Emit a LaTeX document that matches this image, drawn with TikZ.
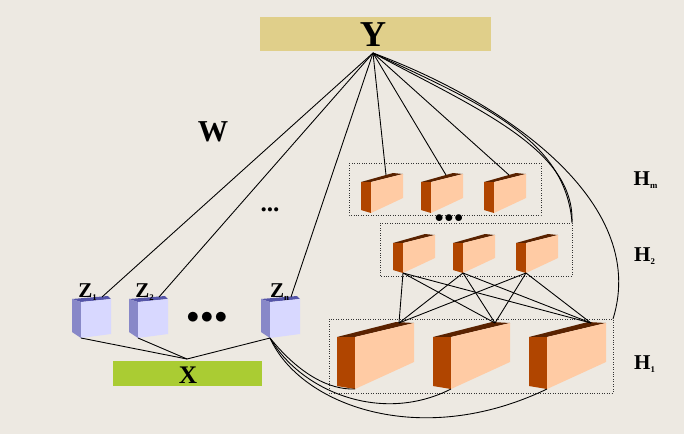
\documentclass[tikz,border=0pt]{standalone}
\usepackage{fontspec}
\setmainfont{Liberation Serif}
\begin{document}
\begin{tikzpicture}[x=0.02cm,y=-0.02cm,line join=round,
  lbl/.style={font=\bfseries\Large,inner sep=0},
  dotted box/.style={densely dotted,draw=black!80},
  ln/.style={black,line width=0.5pt}]
\definecolor{bg}{HTML}{EDE9E2}
\definecolor{ybox}{HTML}{E0CF8A}
\definecolor{xbox}{HTML}{AACC33}
\definecolor{face}{HTML}{FFCBA4}
\definecolor{side}{HTML}{B04500}
\definecolor{topc}{HTML}{5A2200}
\definecolor{cface}{HTML}{D8D8FF}
\definecolor{cside}{HTML}{8888C8}
\definecolor{ctop}{HTML}{5555A8}
\fill[bg] (0,0) rectangle (684,434);
\useasboundingbox (0,0) rectangle (684,434);
% brick: #1 name, #2 L, #3 d, #4 w, #5 T, #6 B, #7 s1, #8 s2
\newcommand{\brick}[8]{%
 \fill[topc] (#2,#5) -- (#2+#4,#5-#7-1) -- (#2+#3+#4,#5-#7) -- (#2+#3,#5) -- cycle;
 \fill[side] (#2,#5) -- (#2+#3,#5) -- (#2+#3,#6) -- (#2,#6-3) -- cycle;
 \fill[face] (#2+#3,#5) -- (#2+#3+#4,#5-#7) -- (#2+#3+#4,#6-#8) -- (#2+#3,#6) -- cycle;
 \coordinate (#1t) at (#2+#3+#4-17,#5-#7+1);
 \coordinate (#1b) at (#2+#3,#6);
}
\newcommand{\cube}[2]{%
 \fill[ctop] (#2,299) -- (#2+36,296) -- (#2+39,299) -- (#2+9,302) -- cycle;
 \fill[cside] (#2,299) -- (#2+9,302) -- (#2+9,338) -- (#2,332) -- cycle;
 \fill[cface] (#2+9,302) -- (#2+39,299) -- (#2+39,334) -- (#2+9,338) -- cycle;
 \coordinate (#1t) at (#2+30,297);
 \coordinate (#1b) at (#2+9,338);
}
% boxes
\node[fill=ybox,minimum width=231*0.02cm,minimum height=34*0.02cm,inner sep=0] (Y) at (375.5,34) {};
\node[font=\bfseries\huge] at (373,35) {Y};
\coordinate (ya) at (373,53);
\node[fill=xbox,minimum width=149*0.02cm,minimum height=25*0.02cm,inner sep=0] (X) at (187.5,373.5) {};
\node[lbl] at (188,375) {X};
\coordinate (xa) at (187,359);
% dotted groups
\draw[dotted box] (349,163) rectangle (541,215);
\draw[dotted box] (380,223) rectangle (572,276);
\draw[dotted box] (329,319) rectangle (613,393);
\coordinate (h2c) at (572,223);
\coordinate (h1c) at (613,319);
% bricks
\brick{m1}{361}{10}{32}{182}{213}{8}{15}
\brick{m2}{421}{10}{32}{182}{213}{8}{15}
\brick{m3}{484}{10}{32}{182}{213}{8}{15}
\brick{s1}{393}{10}{32}{243}{273}{8}{15}
\brick{s2}{453}{10}{32}{243}{273}{8}{15}
\brick{s3}{516}{10}{32}{243}{273}{8}{15}
\brick{b1}{337}{18}{59}{337}{389}{14}{27}
\brick{b2}{433}{18}{59}{337}{389}{14}{27}
\brick{b3}{529}{18}{59}{337}{389}{14}{27}
\coordinate (b1t) at (399,323); \coordinate (b2t) at (495,323); \coordinate (b3t) at (591,323);
% cubes
\cube{z1}{72}
\cube{z2}{129}
\cube{zn}{261}
\node[font=\bfseries\large,inner sep=0] at (88,292) {Z\textsubscript{\tiny 1}};
\node[font=\bfseries\large,inner sep=0] at (145,292) {Z\textsubscript{\tiny 2}};
\node[font=\bfseries\large,inner sep=0] at (280,292) {Z\textsubscript{\tiny n}};
% labels
\node[font=\bfseries\LARGE,inner sep=0] at (213,132) {W};
\node[font=\bfseries\Large,inner sep=0] at (270,210) {...};
\node[inner sep=0,font=\Large] at (207,318) {$\bullet\!\bullet\!\bullet$};
\node[inner sep=0,font=\normalsize] at (449,219) {$\bullet\!\bullet\!\bullet$};
\node[font=\bfseries\large,inner sep=0] at (646,180) {H\textsubscript{\tiny m}};
\node[font=\bfseries\large,inner sep=0] at (645,256) {H\textsubscript{\tiny 2}};
\node[font=\bfseries\large,inner sep=0] at (645,364) {H\textsubscript{\tiny 1}};
% connectors
\foreach \t in {z1t,z2t,znt,m1t,m2t,m3t} \draw[ln] (ya) -- (\t);
\draw[ln] (ya) .. controls (480,110) and (575,150) .. (h2c);
\draw[ln] (ya) .. controls (485,105) and (565,140) .. (572,222);
\draw[ln] (ya) .. controls (500,100) and (650,200) .. (h1c);
\foreach \a in {z1b,z2b,znb} \draw[ln] (xa) -- (\a);
\foreach \s in {s1b,s2b,s3b} \foreach \b in {b1t,b2t,b3t} \draw[ln] (\s) -- (\b);
\draw[ln] (znb) .. controls (300,375) and (330,390) .. (b1b);
\draw[ln] (znb) .. controls (300,390) and (380,425) .. (b2b);
\draw[ln] (znb) .. controls (300,405) and (420,450) .. (b3b);
\end{tikzpicture}
\end{document}
